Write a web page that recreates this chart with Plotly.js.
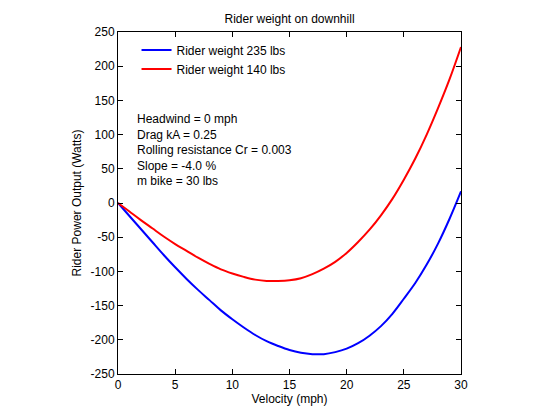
<!DOCTYPE html>
<html>
<head>
<meta charset="utf-8">
<script src="https://cdn.plot.ly/plotly-3.0.1.min.js"></script>
<style>
  html, body { margin: 0; padding: 0; background: white; }
  #chart { width: 560px; height: 420px; }
</style>
</head>
<body>
<div id="chart"></div>
<script>
// velocity in mph at 1 mph steps
const velocity = [0, 1, 2, 3, 4, 5, 6, 7, 8, 9, 10, 11, 12, 13, 14, 15,
  16, 17, 18, 19, 20, 21, 22, 23, 24, 25, 26, 27, 28, 29, 30];

// rider power output (Watts)
const power235 = [0, -19, -38, -57, -76, -94, -111, -127, -142, -157, -170,
  -182, -193, -202, -209, -215, -219, -221, -221, -218, -213, -205, -194,
  -180, -162, -140, -117, -90, -59, -23, 17];
const power140 = [0, -12.5, -25, -37, -49, -60, -70, -80, -89, -97, -103,
  -108, -112, -114, -114, -113, -110, -104, -96, -86, -73, -57, -39, -18,
  6, 34, 65, 100, 139, 181, 228];

const seriesNames = ['Rider weight 235 lbs', 'Rider weight 140 lbs'];
const infoLines = ['Headwind = 0 mph', 'Drag kA = 0.25',
  'Rolling resistance Cr = 0.003', 'Slope = -4.0 %', 'm bike = 30 lbs'];

const xTicks = [0, 5, 10, 15, 20, 25, 30];
const yTicks = [-250, -200, -150, -100, -50, 0, 50, 100, 150, 200, 250];
// plain hyphen minus, as in the original
const yTickText = ['-250', '-200', '-150', '-100', '-50', '0', '50', '100', '150', '200', '250'];

const font = { family: 'Liberation Sans, Arial, sans-serif', size: 12, color: 'black' };

const traces = [
  {
    x: velocity, y: power235, mode: 'lines', name: seriesNames[0],
    line: { color: '#0000ff', width: 2, shape: 'spline' }
  },
  {
    x: velocity, y: power140, mode: 'lines', name: seriesNames[1],
    line: { color: '#ff0000', width: 2, shape: 'spline' }
  }
];

const axisCommon = {
  showgrid: false,
  zeroline: false,
  showline: true,
  linecolor: 'black',
  linewidth: 1,
  mirror: 'ticks',
  ticks: 'inside',
  ticklen: 5,
  tickcolor: 'black',
  tickfont: font
};

const layout = {
  width: 560,
  height: 420,
  font: font,
  paper_bgcolor: 'white',
  plot_bgcolor: 'white',
  margin: { l: 118, r: 99, t: 32, b: 46 },
  title: {
    text: 'Rider weight on downhill',
    font: font,
    x: 0.517, xanchor: 'center',
    y: 0.955, yanchor: 'middle'
  },
  xaxis: Object.assign({}, axisCommon, {
    range: [0, 30],
    tickvals: xTicks,
    title: { text: 'Velocity (mph)', font: font, standoff: 2 }
  }),
  yaxis: Object.assign({}, axisCommon, {
    range: [-250, 250],
    tickvals: yTicks,
    ticktext: yTickText,
    title: { text: 'Rider Power Output (Watts)', font: font, standoff: 6 }
  }),
  showlegend: true,
  legend: {
    x: 0.054, xanchor: 'left',
    y: 0.99, yanchor: 'top',
    bgcolor: 'rgba(0,0,0,0)',
    borderwidth: 0,
    font: font,
    tracegroupgap: 0
  },
  annotations: [{
    xref: 'paper', yref: 'paper',
    x: 0.05, y: 0.772,
    xanchor: 'left', yanchor: 'top',
    align: 'left',
    showarrow: false,
    font: font,
    text: infoLines.join('<br>')
  }]
};

Plotly.newPlot('chart', traces, layout, { displayModeBar: false, staticPlot: true });
</script>
</body>
</html>
